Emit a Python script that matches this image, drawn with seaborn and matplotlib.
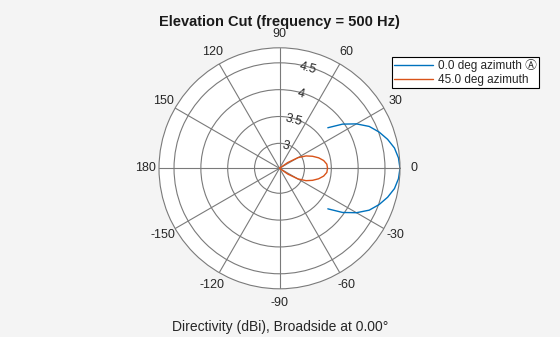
import numpy as np
import pandas as pd
import matplotlib
matplotlib.use("Agg")
import matplotlib.pyplot as plt
import seaborn as sns

# Elevation angles (deg) and directivity (dBi) for the two azimuth cuts
elevation = [-40, -35, -30, -25, -20, -15, -10, -5, 0, 5, 10, 15, 20, 25, 30, 35, 40]
dir_az0 = [3.71, 3.97, 4.19, 4.38, 4.51, 4.62, 4.71, 4.76, 4.78,
           4.76, 4.71, 4.62, 4.51, 4.38, 4.19, 3.97, 3.71]
dir_az45 = [2.47, 2.72, 2.93, 3.08, 3.19, 3.29, 3.37, 3.42, 3.43,
            3.42, 3.37, 3.29, 3.19, 3.08, 2.93, 2.72, 2.47]
series_labels = ["0.0 deg azimuth \u24b6", "45.0 deg azimuth"]
angle_ticks = [0, 30, 60, 90, 120, 150, 180, 210, 240, 270, 300, 330]
angle_labels = ["0", "30", "60", "90", "120", "150", "180",
                "-150", "-120", "-90", "-60", "-30"]
r_ticks = [3, 3.5, 4, 4.5]
r_labels = ["3", "3.5", "4", "4.5"]

sns.set_theme(style="white")
plt.rcParams["font.family"] = ["Liberation Sans", "Noto Sans CJK SC", "DejaVu Sans"]

r_min, r_max = 2.535, 4.78
BLUE, ORANGE = "#0072BD", "#D95319"
GRID = "#7a7a7a"
BG = "#f4f4f4"
TXT = "#262626"

df = pd.DataFrame({
    "theta": np.deg2rad(elevation * 2),
    "value": np.clip(dir_az0 + dir_az45, r_min, None),
    "cut": [series_labels[0]] * len(elevation) + [series_labels[1]] * len(elevation),
})

fig = plt.figure(figsize=(5.6, 3.37), dpi=100, facecolor=BG)
ax = fig.add_axes([159 / 560, 48.2 / 337, 241 / 560, 241 / 337], projection="polar")
ax.set_facecolor("white")

sns.lineplot(data=df, x="theta", y="value", hue="cut", sort=False,
             palette=[BLUE, ORANGE], linewidth=1.0, ax=ax, legend=False)

ax.set_ylim(r_min, r_max)
ax.set_thetagrids(angle_ticks, angle_labels)
ax.set_rgrids(r_ticks, [""] * len(r_ticks))
ax.grid(True, color=GRID, linewidth=0.8)
ax.spines["polar"].set_color(GRID)
ax.spines["polar"].set_linewidth(0.8)
ax.tick_params(axis="x", pad=-3, labelsize=9, colors=TXT)
ax.set_xlabel("")
ax.set_ylabel("")

for v, s in zip(r_ticks, r_labels):
    ax.text(np.deg2rad(74), v - 0.03, s, rotation=-15, ha="center", va="center",
            fontsize=9, color=TXT)

fig.text(279.5 / 560, 1 - 22 / 337, "Elevation Cut (frequency = 500 Hz)",
         ha="center", va="center", fontsize=10.5, fontweight="bold", color="#1a1a1a")
fig.text(280 / 560, 1 - 327.5 / 337, "Directivity (dBi), Broadside at 0.00\u00b0",
         ha="center", va="center", fontsize=10, color=TXT)

handles = [plt.Line2D([], [], color=BLUE, lw=1.0), plt.Line2D([], [], color=ORANGE, lw=1.0)]
leg = fig.legend(handles, series_labels, loc="upper left",
                 bbox_to_anchor=(391.8 / 560, 1 - 56.7 / 337),
                 fontsize=8.5, frameon=True, fancybox=False, framealpha=1,
                 edgecolor="black", handlelength=3.3, handletextpad=0.4,
                 borderpad=0.2, labelspacing=0.15, borderaxespad=0)
leg.get_frame().set_linewidth(0.8)

fig.savefig("out.png", dpi=100, facecolor=BG)
